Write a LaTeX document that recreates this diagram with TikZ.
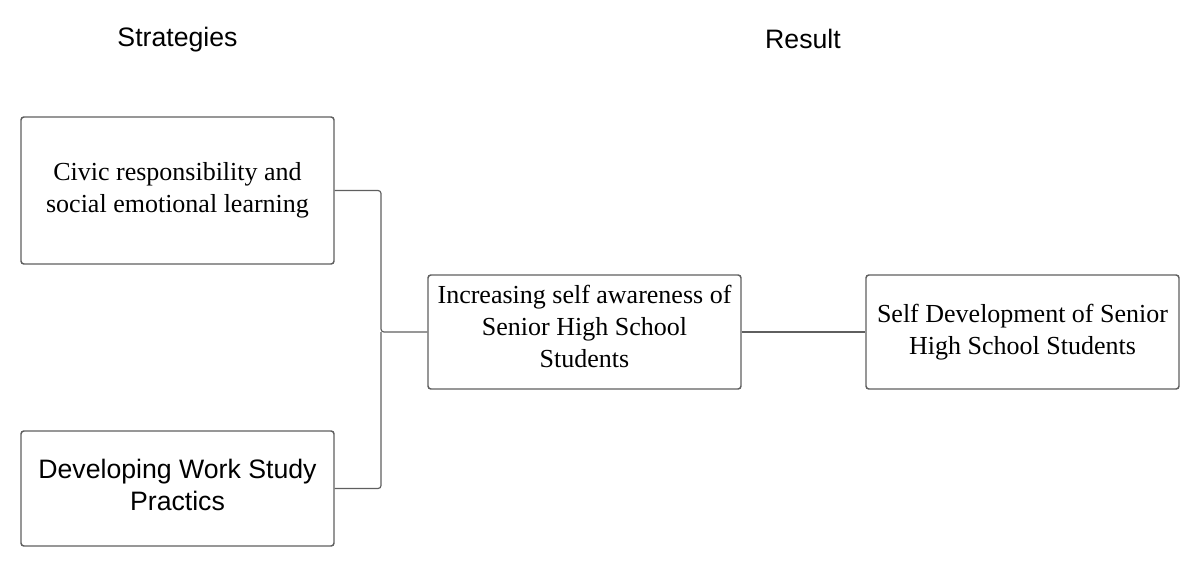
\documentclass[tikz,border=0pt]{standalone}
\usepackage{fontspec}
\setmainfont{Liberation Serif}
\newfontfamily\headfont{Liberation Sans}
\definecolor{edgegray}{HTML}{5F5F5F}
\begin{document}
\begin{tikzpicture}[x=0.75pt,y=-0.75pt]
    \tikzstyle{box}=[draw=edgegray, line width=1.1pt, rounded corners=2.2pt, align=center, minimum width=234.75pt, inner sep=2pt]
    \tikzstyle{serif}=[font=\fontsize{19.5}{24}\selectfont]
    \tikzstyle{sans}=[font=\headfont\fontsize{20}{24}\selectfont]
    \tikzstyle{link}=[draw=edgegray, line width=0.9pt, rounded corners=2.2pt]
    \useasboundingbox (0,0) rectangle (1200,567);
    % column headings
    \node[sans] (strat) at (177.5,40){Strategies};
    \node[sans] (res) at (803,39){Result};
    % boxes
    \node[box,serif,minimum height=110.25pt] (civic) at (177.5,190.5){Civic responsibility and\\social emotional learning};
    \node[box,sans,minimum height=86.25pt,text depth=6pt] (work) at (177.5,488.5){Developing Work Study\\Practics};
    \node[box,serif,minimum height=85.5pt,text depth=9pt] (aware) at (584.5,332){Increasing self awareness of\\Senior High School\\Students};
    \node[box,serif,minimum height=85.5pt] (devel) at (1022.5,332){Self Development of Senior\\High School Students};
    % links
    \coordinate (join) at (381,332);
    \draw[link] (civic.east) -| (join) -- (aware.west);
    \draw[link] (work.east) -| (join);
    \draw[link] (aware.east) -- (devel.west);
  \end{tikzpicture}
\end{document}
